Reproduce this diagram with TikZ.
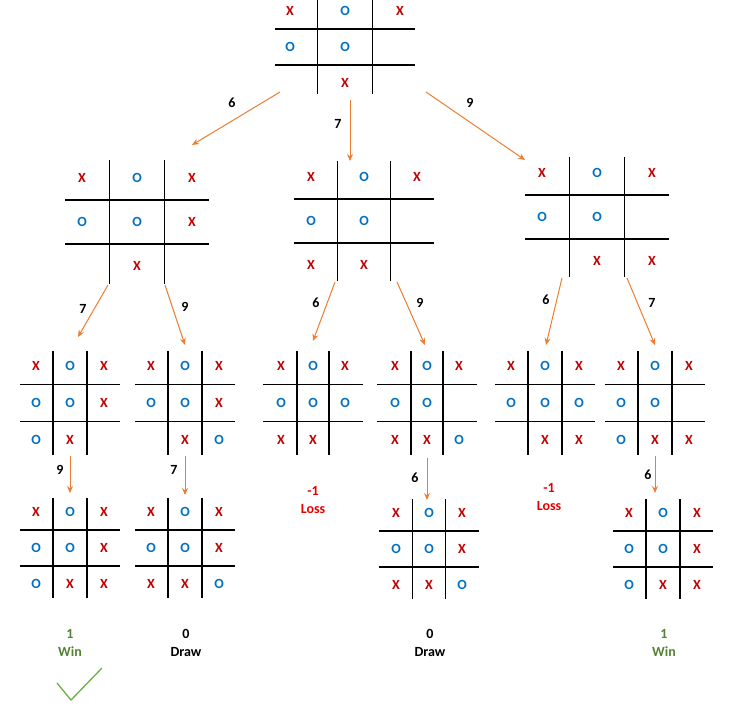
\documentclass[tikz,border=0pt]{standalone}
\usetikzlibrary{arrows.meta,calc}
\usepackage{fontspec}
\setmainfont{Carlito}
\definecolor{xr}{RGB}{192,0,0}
\definecolor{lr}{RGB}{230,0,0}
\definecolor{ob}{RGB}{0,112,192}
\definecolor{orn}{RGB}{237,125,49}
\definecolor{grn}{RGB}{84,130,53}
\definecolor{ck}{RGB}{112,173,71}
\tikzset{
  grid/.style={line width=1.3pt,black},
  conn/.style={orn,line width=1pt,-{Stealth[length=7pt,width=6pt]}},
  wl/.style={font=\bfseries\fontsize{14}{14}\selectfont,text=black},
  res/.style={font=\bfseries\fontsize{14}{18}\selectfont,align=center},
  mk/.style={font=\bfseries\fontsize{14}{14}\selectfont,inner sep=0pt}
}
\newcommand\mkx{\node[mk,text=xr]{X};}
\newcommand\mko{\node[mk,text=ob]{O};}
\newcommand\mkn{}
\newcommand\ttt[8]{%
  \coordinate (#1) at (#2,#3);
  \draw[grid] (#2-#4/2,#3-#7)--(#2-#4/2,#3+#7) (#2+#4/2,#3-#7)--(#2+#4/2,#3+#7)
              (#2-#6,#3-#5/2)--(#2+#6,#3-#5/2) (#2-#6,#3+#5/2)--(#2+#6,#3+#5/2);
  \foreach \v [count=\i from 0] in {#8}{
    \pgfmathtruncatemacro\cc{mod(\i,3)-1}
    \pgfmathtruncatemacro\rr{floor(\i/3)-1}
    \begin{scope}[shift={(#2+\cc*#4,#3+\rr*#5)}]\csname mk\v\endcsname\end{scope}
  }}
\begin{document}
\begin{tikzpicture}[x=1pt,y=-1pt]
\useasboundingbox (0,0) rectangle (736,718);
\ttt{r}{345}{47}{55}{36}{70}{47}{x,o,x,o,o,n,n,x,n}
\ttt{a}{137}{222}{55}{44}{72}{62}{x,o,x,o,o,x,n,x,n}
\ttt{b}{364}{221}{53}{44}{70}{60}{x,o,x,o,o,n,x,x,n}
\ttt{c}{597}{217}{55}{44}{72}{60}{x,o,x,o,o,n,n,x,x}
\ttt{a1}{70}{403}{34}{37}{50}{52}{x,o,x,o,o,x,o,x,n}
\ttt{a2}{185}{403}{34}{37}{50}{52}{x,o,x,o,o,x,n,x,o}
\ttt{b1}{313}{403}{32}{37}{50}{52}{x,o,x,o,o,o,x,x,n}
\ttt{b2}{427}{403}{32}{37}{50}{52}{x,o,x,o,o,n,x,x,o}
\ttt{c1}{545}{403}{34}{37}{50}{52}{x,o,x,o,o,o,n,x,x}
\ttt{c2}{655}{403}{34}{37}{50}{52}{x,o,x,o,o,n,o,x,x}
\ttt{a1a}{70}{548}{34}{36}{50}{50}{x,o,x,o,o,x,o,x,x}
\ttt{a2a}{185}{548}{34}{36}{50}{50}{x,o,x,o,o,x,x,x,o}
\ttt{b2a}{429}{549}{33}{36}{50}{50}{x,o,x,o,o,x,x,x,o}
\ttt{c2a}{663}{549}{34}{36}{50}{50}{x,o,x,o,o,x,o,x,x}
\draw[conn] ($(r)+(-65,45)$) -- ($(a)+(55,-77)$);
\node[wl] at (232,103) {6};
\draw[conn] ($(r)+(5,53)$) -- ($(b)+(-14,-60)$);
\node[wl] at (338,124) {7};
\draw[conn] ($(r)+(81,45)$) -- ($(c)+(-72,-57)$);
\node[wl] at (470,103) {9};
\draw[conn] ($(a)+(-29,63)$) -- ($(a1)+(8,-66)$);
\node[wl] at (83,309) {7};
\draw[conn] ($(a)+(28,63)$) -- ($(a2)+(0,-58)$);
\node[wl] at (185,307) {9};
\draw[conn] ($(b)+(-29,61)$) -- ($(b1)+(0,-62)$);
\node[wl] at (316,303) {6};
\draw[conn] ($(b)+(33,61)$) -- ($(b2)+(-2,-58)$);
\node[wl] at (420,303) {9};
\draw[conn] ($(c)+(-35,61)$) -- ($(c1)+(1,-58)$);
\node[wl] at (546,300) {6};
\draw[conn] ($(c)+(30,61)$) -- ($(c2)+(0,-58)$);
\node[wl] at (652,303) {7};
\draw[conn] ($(a1)+(0,53)$) -- ($(a1a)+(0,-55)$);
\node[wl] at (60,470) {9};
\draw[conn] ($(a2)+(0,53)$) -- ($(a2a)+(0,-53)$);
\node[wl] at (174,470) {7};
\draw[conn] ($(b2)+(0,55)$) -- ($(b2a)+(-2,-49)$);
\node[wl] at (415,478) {6};
\draw[conn] ($(c2)+(0,53)$) -- ($(c2a)+(-8,-56)$);
\node[wl] at (648,475) {6};
\node[res,text=lr] (l1) at (313,500) {-1\\Loss};
\node[res,text=lr] (l2) at (549,497) {-1\\Loss};
\node[res,text=grn] (w1) at (70,643) {1\\Win};
\node[res] (d1) at (186,643) {0\\Draw};
\node[res] (d2) at (430,643) {0\\Draw};
\node[res,text=grn] (w2) at (664,643) {1\\Win};
\draw[ck,line width=1.3pt] (57,683) -- (71,700) -- (102,668);
\end{tikzpicture}
\end{document}
